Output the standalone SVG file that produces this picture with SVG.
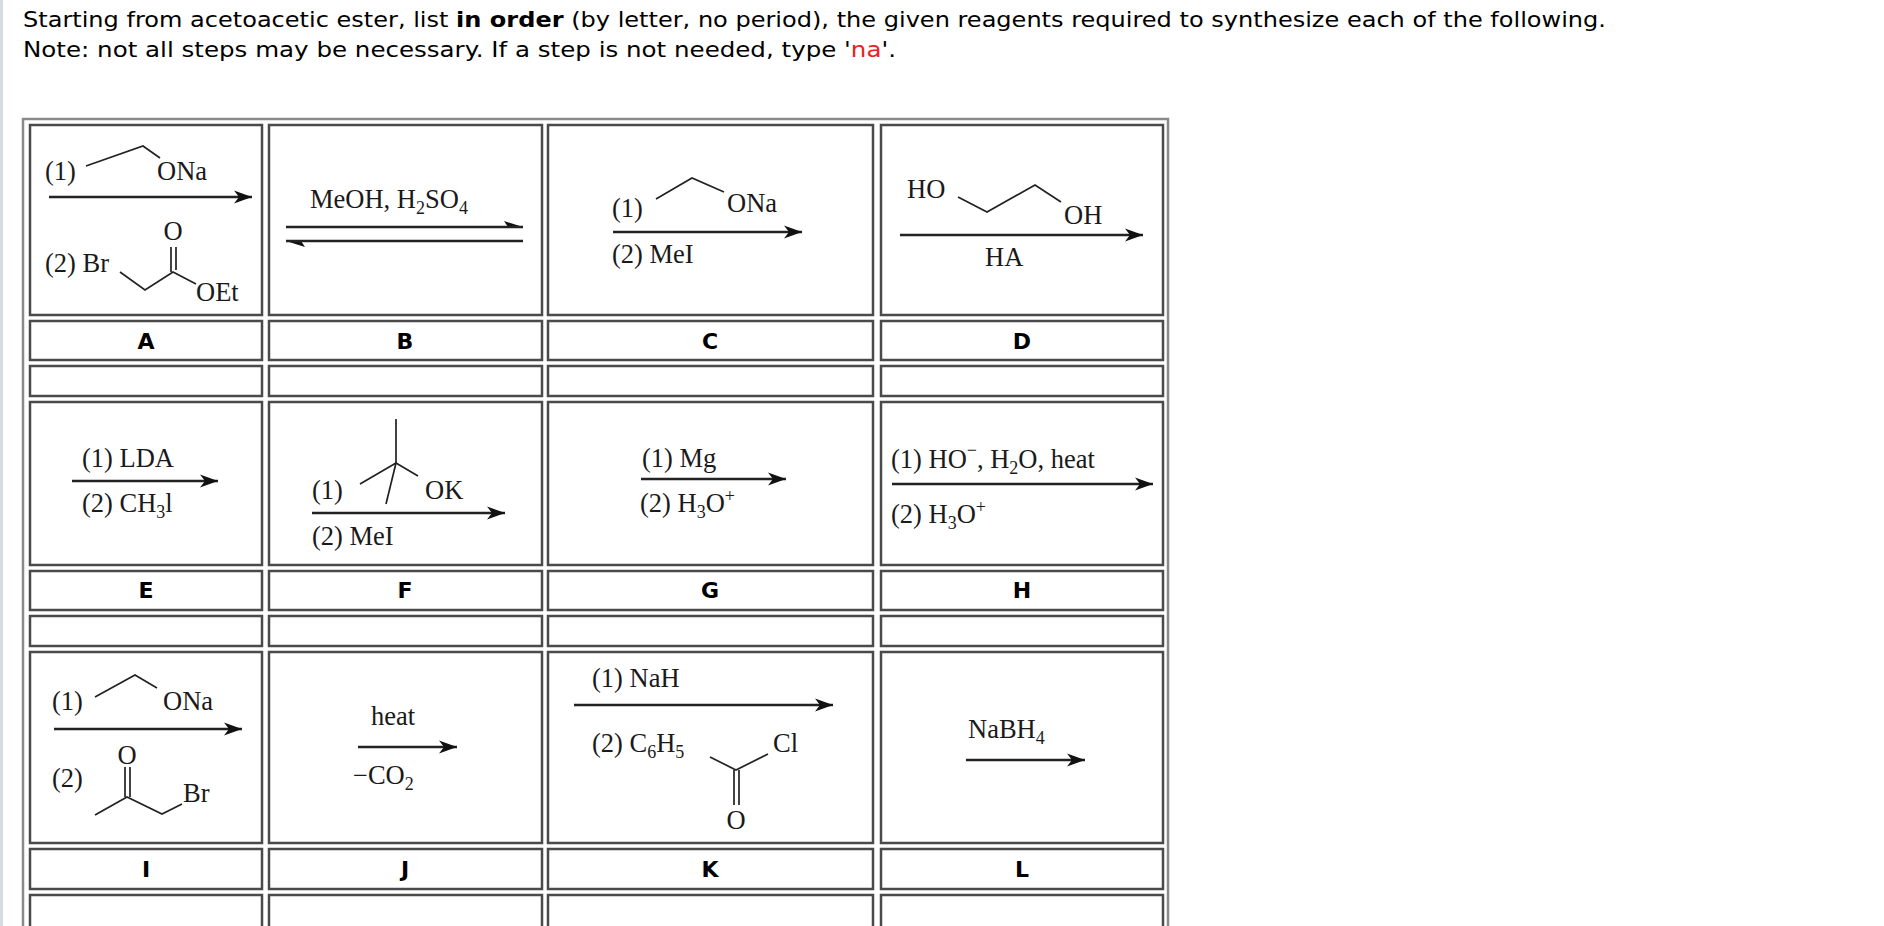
<svg xmlns="http://www.w3.org/2000/svg" width="1884" height="926" viewBox="0 0 1884 926">
<style>
.h{font-family:"DejaVu Sans",Verdana,sans-serif;font-size:20.5px;fill:#000}
.c{font-family:"Liberation Serif","Times New Roman",serif;font-size:26.5px;fill:#1a1a1a}
.s{font-size:18px}
.l{font-family:"DejaVu Sans",Verdana,sans-serif;font-size:22px;font-weight:bold;text-anchor:middle;fill:#000}
.cell{fill:#fff;stroke:#4a4a4a;stroke-width:2.5}
.b{fill:none;stroke:#222;stroke-width:1.7}
.a{stroke:#222;stroke-width:2.3;fill:none}
</style>
<defs>
<marker id="ah" markerUnits="userSpaceOnUse" markerWidth="20" markerHeight="14" refX="18" refY="7" orient="auto">
<path d="M0,0.5 L18,7 L0,13.5 L5,7 z" fill="#111"/>
</marker>
</defs>
<rect width="1884" height="926" fill="#fff"/>
<rect x="0" y="0" width="3" height="926" fill="#d3dce8"/>
<text class="h" x="23" y="27" textLength="1583" lengthAdjust="spacingAndGlyphs">Starting from acetoacetic ester, list <tspan font-weight="bold">in order</tspan> (by letter, no period), the given reagents required to synthesize each of the following.</text>
<text class="h" x="23" y="57" textLength="873" lengthAdjust="spacingAndGlyphs">Note: not all steps may be necessary. If a step is not needed, type '<tspan fill="#e8231e">na</tspan>'.</text>
<rect x="23" y="119" width="1145" height="820" fill="none" stroke="#8a8a8a" stroke-width="2.5"/>
<g id="cells">
<rect class="cell" x="30" y="125" width="232" height="190"/><rect class="cell" x="269" y="125" width="273" height="190"/><rect class="cell" x="548" y="125" width="325" height="190"/><rect class="cell" x="881" y="125" width="282" height="190"/>
<rect class="cell" x="30" y="321" width="232" height="39"/><rect class="cell" x="269" y="321" width="273" height="39"/><rect class="cell" x="548" y="321" width="325" height="39"/><rect class="cell" x="881" y="321" width="282" height="39"/>
<rect class="cell" x="30" y="366" width="232" height="30"/><rect class="cell" x="269" y="366" width="273" height="30"/><rect class="cell" x="548" y="366" width="325" height="30"/><rect class="cell" x="881" y="366" width="282" height="30"/>
<rect class="cell" x="30" y="402" width="232" height="163"/><rect class="cell" x="269" y="402" width="273" height="163"/><rect class="cell" x="548" y="402" width="325" height="163"/><rect class="cell" x="881" y="402" width="282" height="163"/>
<rect class="cell" x="30" y="571" width="232" height="39"/><rect class="cell" x="269" y="571" width="273" height="39"/><rect class="cell" x="548" y="571" width="325" height="39"/><rect class="cell" x="881" y="571" width="282" height="39"/>
<rect class="cell" x="30" y="616" width="232" height="30"/><rect class="cell" x="269" y="616" width="273" height="30"/><rect class="cell" x="548" y="616" width="325" height="30"/><rect class="cell" x="881" y="616" width="282" height="30"/>
<rect class="cell" x="30" y="652" width="232" height="191"/><rect class="cell" x="269" y="652" width="273" height="191"/><rect class="cell" x="548" y="652" width="325" height="191"/><rect class="cell" x="881" y="652" width="282" height="191"/>
<rect class="cell" x="30" y="849" width="232" height="40"/><rect class="cell" x="269" y="849" width="273" height="40"/><rect class="cell" x="548" y="849" width="325" height="40"/><rect class="cell" x="881" y="849" width="282" height="40"/>
<rect class="cell" x="30" y="895" width="232" height="40"/><rect class="cell" x="269" y="895" width="273" height="40"/><rect class="cell" x="548" y="895" width="325" height="40"/><rect class="cell" x="881" y="895" width="282" height="40"/>
</g>
<g id="labels">
<text class="l" x="146" y="349">A</text><text class="l" x="405" y="349">B</text><text class="l" x="710" y="349">C</text><text class="l" x="1022" y="349">D</text>
<text class="l" x="146" y="598">E</text><text class="l" x="405" y="598">F</text><text class="l" x="710" y="598">G</text><text class="l" x="1022" y="598">H</text>
<text class="l" x="146" y="877">I</text><text class="l" x="405" y="877">J</text><text class="l" x="710" y="877">K</text><text class="l" x="1022" y="877">L</text>
</g>
<g id="A">
<text class="c" x="45" y="180">(1)</text>
<polyline class="b" points="86,166 143,146 160,158"/>
<text class="c" x="157" y="180">ONa</text>
<text class="c" x="45" y="272">(2) Br</text>
<polyline class="b" points="120,272 145,290 173,272 196,284"/>
<line class="b" x1="171" y1="247" x2="171" y2="272"/><line class="b" x1="176" y1="247" x2="176" y2="270"/>
<text class="c" x="173" y="240" text-anchor="middle">O</text>
<text class="c" x="196" y="301">OEt</text>
</g>
<g id="B">
<text class="c" x="310" y="208">MeOH, H<tspan class="s" dy="6">2</tspan><tspan dy="-6">SO</tspan><tspan class="s" dy="6">4</tspan></text>
<path d="M523,227 L504,221 L508,227" fill="#111"/>
<path d="M286,241 L305,247 L301,241" fill="#111"/>
</g>
<g id="C">
<text class="c" x="612" y="217">(1)</text>
<polyline class="b" points="656,199 692,178 724,192"/>
<text class="c" x="727" y="212">ONa</text>
<text class="c" x="612" y="263">(2) MeI</text>
</g>
<g id="D">
<text class="c" x="907" y="198">HO</text>
<polyline class="b" points="958,197 987,212 1035,185 1061,202"/>
<text class="c" x="1064" y="224">OH</text>
<text class="c" x="985" y="266">HA</text>
</g>
<g id="E">
<text class="c" x="82" y="467">(1) LDA</text>
<text class="c" x="82" y="512">(2) CH<tspan class="s" dy="6">3</tspan><tspan dy="-6">l</tspan></text>
</g>
<g id="F">
<text class="c" x="312" y="499">(1)</text>
<polyline class="b" points="396,419 396,463"/>
<polyline class="b" points="360,484 396,463 418,476"/>
<polyline class="b" points="396,463 386,504"/>
<text class="c" x="425" y="499">OK</text>
<text class="c" x="312" y="545">(2) MeI</text>
</g>
<g id="G">
<text class="c" x="642" y="467">(1) Mg</text>
<text class="c" x="640" y="512">(2) H<tspan class="s" dy="6">3</tspan><tspan dy="-6">O</tspan><tspan class="s" dy="-10">+</tspan></text>
</g>
<g id="H">
<text class="c" x="891" y="468">(1) HO<tspan class="s" dy="-12">−</tspan><tspan dy="12">,  H</tspan><tspan class="s" dy="6">2</tspan><tspan dy="-6">O, heat</tspan></text>
<text class="c" x="891" y="523">(2) H<tspan class="s" dy="6">3</tspan><tspan dy="-6">O</tspan><tspan class="s" dy="-10">+</tspan></text>
</g>
<g id="I">
<text class="c" x="52" y="710">(1)</text>
<polyline class="b" points="95,697 135,675 157,688"/>
<text class="c" x="163" y="710">ONa</text>
<text class="c" x="52" y="787">(2)</text>
<text class="c" x="127" y="764" text-anchor="middle">O</text>
<line class="b" x1="125" y1="767" x2="125" y2="797"/><line class="b" x1="130" y1="767" x2="130" y2="797"/>
<polyline class="b" points="95,815 127,797 162,814 182,804"/>
<text class="c" x="183" y="802">Br</text>
</g>
<g id="J">
<text class="c" x="371" y="725">heat</text>
<text class="c" x="353" y="784">−CO<tspan class="s" dy="6">2</tspan></text>
</g>
<g id="K">
<text class="c" x="592" y="687">(1) NaH</text>
<text class="c" x="592" y="752">(2)  C<tspan class="s" dy="6">6</tspan><tspan dy="-6">H</tspan><tspan class="s" dy="6">5</tspan></text>
<polyline class="b" points="710,757 736,770 768,754"/>
<line class="b" x1="734" y1="770" x2="734" y2="805"/><line class="b" x1="739" y1="770" x2="739" y2="805"/>
<text class="c" x="773" y="752">Cl</text>
<text class="c" x="736" y="829" text-anchor="middle">O</text>
</g>
<g id="L">
<text class="c" x="968" y="738">NaBH<tspan class="s" dy="6">4</tspan></text>
</g>
<g id="connectors">
<line class="a" x1="49" y1="197" x2="252" y2="197" marker-end="url(#ah)"/>
<line class="a" x1="286" y1="227" x2="523" y2="227"/>
<line class="a" x1="286" y1="241" x2="523" y2="241"/>
<line class="a" x1="613" y1="232" x2="802" y2="232" marker-end="url(#ah)"/>
<line class="a" x1="900" y1="235" x2="1143" y2="235" marker-end="url(#ah)"/>
<line class="a" x1="72" y1="481" x2="218" y2="481" marker-end="url(#ah)"/>
<line class="a" x1="312" y1="513" x2="505" y2="513" marker-end="url(#ah)"/>
<line class="a" x1="641" y1="479" x2="786" y2="479" marker-end="url(#ah)"/>
<line class="a" x1="892" y1="484" x2="1153" y2="484" marker-end="url(#ah)"/>
<line class="a" x1="54" y1="729" x2="242" y2="729" marker-end="url(#ah)"/>
<line class="a" x1="358" y1="747" x2="457" y2="747" marker-end="url(#ah)"/>
<line class="a" x1="574" y1="705" x2="833" y2="705" marker-end="url(#ah)"/>
<line class="a" x1="966" y1="760" x2="1085" y2="760" marker-end="url(#ah)"/>
</g>
</svg>
